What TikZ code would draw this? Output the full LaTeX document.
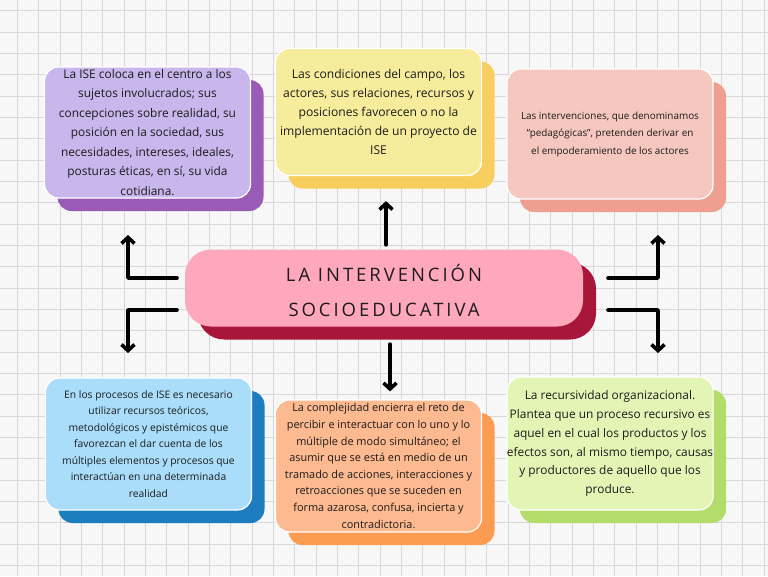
\documentclass[tikz,border=0pt]{standalone}
\usepackage{fontspec}
\setmainfont{Open Sans}
\usetikzlibrary{arrows.meta}
\usetikzlibrary{shadows}

\definecolor{ink}{HTML}{1C1C1C}
\definecolor{paper}{HTML}{F7F7F7}
\definecolor{gridgray}{HTML}{D8D8D8}
\definecolor{lilac}{HTML}{C9B6EC}
\definecolor{lilacdark}{HTML}{9A5BB6}
\definecolor{lemon}{HTML}{F6EC9B}
\definecolor{lemondark}{HTML}{F8CF5F}
\definecolor{salmon}{HTML}{F5C7BE}
\definecolor{salmondark}{HTML}{EE9F8F}
\definecolor{rosa}{HTML}{FFA8BC}
\definecolor{vino}{HTML}{A8173A}
\definecolor{sky}{HTML}{A9DDF9}
\definecolor{skydark}{HTML}{1E7DBF}
\definecolor{apricot}{HTML}{FDB98F}
\definecolor{apricotdark}{HTML}{FC9B52}
\definecolor{lime}{HTML}{E3F5B5}
\definecolor{limedark}{HTML}{B3DC68}

\begin{document}
\begin{tikzpicture}[
x=1pt, y=-1pt,
gridline/.style={draw=gridgray, line width=0.7pt},
card/.style={
	% The shape:
	rectangle, rounded corners=14pt,
	% The size:
	minimum width=206pt, minimum height=131pt, inner sep=0pt,
	% The border:
	draw=white, line width=1.2pt,
	% The text:
	align=center, text=ink},
back/.style={drop shadow={shadow xshift=13pt, shadow yshift=-13pt, opacity=1, fill=#1}},
link/.style={line width=3.6pt, line cap=round, line join=round,
	-{Straight Barb[length=6pt,width=13pt]}},
]

% paper with squares
\fill[paper] (0,0) rectangle (768,576);
\useasboundingbox (0,0) rectangle (768,576);
\foreach \i in {0,...,36} \draw[gridline] ({-4+21.333*\i},0) -- ({-4+21.333*\i},576);
\foreach \j in {0,...,27} \draw[gridline] (0,{10.667+21.333*\j}) -- (768,{10.667+21.333*\j});

% centre
\node (title) [card, draw=none, minimum width=398pt, minimum height=77pt, rounded corners=26pt,
	fill=rosa, back=vino, font=\fontsize{18.5}{35}\selectfont\addfontfeatures{LetterSpace=16}]
	at (384,288) {\rule{0pt}{23pt}LA INTERVENCIÓN\\SOCIOEDUCATIVA};

% top row
\node (ise) [card, fill=lilac, back=lilacdark, font=\fontsize{11.9}{19.5}\selectfont]
	at (147.5,132.5) {La ISE coloca en el centro a los\\sujetos involucrados; sus\\concepciones sobre realidad, su\\posición en la sociedad, sus\\necesidades, intereses, ideales,\\posturas éticas, en sí, su vida\\cotidiana.};
\node (condiciones) [card, minimum height=127pt, fill=lemon, back=lemondark, font=\fontsize{12.1}{19.2}\selectfont]
	at (378.5,112) {Las condiciones del campo, los\\actores, sus relaciones, recursos y\\posiciones favorecen o no la\\implementación de un proyecto de\\ISE};
\node (intervenciones) [card, minimum height=130pt, fill=salmon, back=salmondark, font=\fontsize{9.9}{17.5}\selectfont]
	at (610,134) {Las intervenciones, que denominamos\\“pedagógicas”, pretenden derivar en\\el empoderamiento de los actores};

% bottom row
\node (procesos) [card, minimum height=132pt, fill=sky, back=skydark, font=\fontsize{10.3}{16.5}\selectfont]
	at (148.5,444) {En los procesos de ISE es necesario\\utilizar recursos teóricos,\\metodológicos y epistémicos que\\favorezcan el dar cuenta de los\\múltiples elementos y procesos que\\interactúan en una determinada\\realidad};
\node (complejidad) [card, minimum height=132pt, fill=apricot, back=apricotdark, font=\fontsize{10.9}{16.6}\selectfont]
	at (378.5,466) {La complejidad encierra el reto de\\percibir e interactuar con lo uno y lo\\múltiple de modo simultáneo; el\\asumir que se está en medio de un\\tramado de acciones, interacciones y\\retroacciones que se suceden en\\forma azarosa, confusa, incierta y\\contradictoria.};
\node (recursividad) [card, minimum height=133pt, fill=lime, back=limedark, font=\fontsize{11.9}{18.8}\selectfont]
	at (610,443.5) {La recursividad organizacional.\\Plantea que un proceso recursivo es\\aquel en el cual los productos y los\\efectos son, al mismo tiempo, causas\\y productores de aquello que los\\produce.};

% arrows
\draw[link, shorten <=4pt, shorten >=25pt] ([xshift=2pt]title.north) -- ([xshift=2pt]title.north |- condiciones.south);
\draw[link, shorten <=17pt, shorten >=8pt] ([xshift=6pt]title.south) -- ([xshift=6pt]title.south |- complejidad.north);

\coordinate (lu0) at (177,278);
\coordinate (lu1) at (128,235);
\coordinate (ld0) at (177,310);
\coordinate (ld1) at (128,353);
\coordinate (ru0) at (608,278);
\coordinate (ru1) at (658,235);
\coordinate (rd0) at (608,310);
\coordinate (rd1) at (658,353);
\draw[link] (lu0) -| (lu1);
\draw[link] (ld0) -| (ld1);
\draw[link] (ru0) -| (ru1);
\draw[link] (rd0) -| (rd1);

\end{tikzpicture}
\end{document}
